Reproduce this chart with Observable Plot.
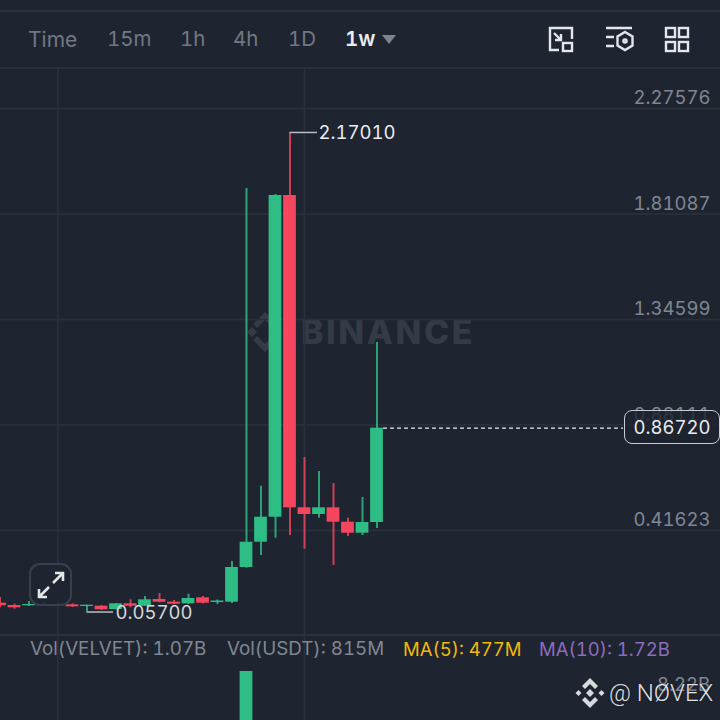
<!DOCTYPE html>
<html><head><meta charset="utf-8">
<script src="https://cdn.jsdelivr.net/npm/d3@7"></script>
<script src="https://cdn.jsdelivr.net/npm/@observablehq/plot@0.6"></script>
<style>
html,body{margin:0;padding:0;background:#1f2530;width:720px;height:720px;overflow:hidden}
#wrap{position:relative;width:720px;height:720px;font-family:Inter,sans-serif;font-variant-numeric:tabular-nums;font-feature-settings:"tnum"}
#wrap>svg{position:absolute;left:0;top:0}
.t{position:absolute;white-space:nowrap;line-height:1}
</style></head><body><div id="wrap"></div>
<script>
const slots = d3.range(27);
const opens  = [0.0959,0.0857,0.0844,0.0857,0.0901,0.0888,0.0813,0.0826,0.0681,0.0932,0.0826,0.1122,0.1003,0.0932,0.1196,0.0989,0.1003,0.2532,0.3647,0.4748,1.8924,0.5162,0.4867,0.5162,0.4528,0.4043,0.4515];
const closes = [0.0844,0.0756,0.0901,0.0901,0.0857,0.0800,0.0870,0.0668,0.0932,0.0826,0.1108,0.1003,0.0914,0.1166,0.0959,0.1055,0.2532,0.3647,0.4748,1.8924,0.5162,0.4867,0.5162,0.4528,0.4043,0.4515,0.8672];
const highs  = [0.1210,0.0914,0.1033,0.0989,0.0945,0.0932,0.0870,0.0857,0.0945,0.1108,0.1254,0.1386,0.1077,0.1355,0.1254,0.1100,0.2796,1.9232,0.6114,1.8968,2.1701,0.7379,0.6762,0.6233,0.4704,0.5616,1.2446];
const lows   = [0.0756,0.0694,0.0813,0.0835,0.0813,0.0769,0.0570,0.0637,0.0659,0.0756,0.0813,0.0976,0.0888,0.0901,0.0923,0.0901,0.0945,0.2500,0.3061,0.3823,0.3942,0.3338,0.4704,0.2620,0.3898,0.3942,0.4250];
const volX = [17];
const volValues = [9.63e9];
const yTicks = [2.27576,1.81087,1.34599,0.88111,0.41623];
const xGrid = [4,21];
const lastPrice = 0.86720, highPrice = 2.17010, lowPrice = 0.05700;
const highIdx = 20, lowIdx = 6;
const frames = ["Time","15m","1h","4h","1D","1w"];
const volLabels = [["Vol(VELVET): 1.07B","#7f8793"],["Vol(USDT): 815M","#7f8793"],["MA(5): 477M","#f0b90b"],["MA(10): 1.72B","#8e6bbf"]];

const candles = slots.map(i=>({i,o:opens[i],c:closes[i],h:highs[i],l:lows[i]}));
const UP="#2ebd85", DOWN="#f6465d", GRID="#2b313c";
const col = d=>d.c>=d.o?UP:DOWN;
const x = {type:"linear",domain:[0,26],range:[-0.5,376.5]};
const y = {type:"linear",domain:[2.27576,0.41623],range:[108,530]};
const wrap=document.getElementById("wrap");
function add(html,css){const e=document.createElement("div");e.className="t";e.innerHTML=html;e.style.cssText=css;wrap.appendChild(e);return e;}
function line(l,t,w,h,c){add("",`left:${l}px;top:${t}px;width:${w}px;height:${h}px;background:${c}`)}

add("BINANCE","left:301px;top:315px;font-size:34px;font-weight:800;color:#343a46;letter-spacing:2.5px");
add('<svg width="36" height="40" style="position:static;display:block"><g fill="#343a46"><path d="M18 0l8 8-4 4-4-4-8 8-4-4z"/><path d="M18 40l8-8-4-4-4 4-8-8-4 4z" /><path d="M5 15l5 5-5 5-5-5z"/><path d="M30 15l5 5-5 5-5-5z"/></g></svg>',"left:247px;top:312px");

const plot = Plot.plot({
  width:720,height:720,marginTop:0,marginBottom:0,marginLeft:0,marginRight:0,
  style:{background:"transparent",fontFamily:"Inter,sans-serif",fontVariantNumeric:"tabular-nums",overflow:"hidden"},
  x:{...x,axis:null},y:{...y,axis:null,clamp:false},
  marks:[
    Plot.ruleY(yTicks,{stroke:GRID,strokeWidth:1.5}),
    Plot.ruleX(xGrid,{stroke:GRID,strokeWidth:1.5,y1:2.452,y2:-0.5}),
    Plot.text(yTicks,{x:()=>49,y:d=>d,dy:-10,text:d=>d.toFixed(5),textAnchor:"end",fill:"#7f8793",fontSize:18.5}),
    Plot.ruleX(candles,{x:"i",y1:"l",y2:"h",stroke:col,strokeWidth:2,strokeOpacity:0.82}),
    Plot.rect(candles,{x1:d=>d.i-0.44,x2:d=>d.i+0.44,y1:"o",y2:"c",fill:col}),
    Plot.ruleY([lastPrice],{x1:26.45,x2:43,stroke:"#eaecef",strokeWidth:1.2,strokeDasharray:"4 3"}),
    Plot.ruleY([highPrice],{x1:highIdx,x2:21.9,stroke:"#b7bdc6",strokeWidth:1.5}),
    Plot.ruleY([lowPrice],{x1:lowIdx,x2:7.83,stroke:"#b7bdc6",strokeWidth:1.5}),
    Plot.text([highPrice],{x:()=>21.97,y:d=>d,dy:1,text:d=>d.toFixed(5),textAnchor:"start",fill:"#eaecef",fontSize:18.5}),
    Plot.text([lowPrice],{x:()=>7.97,y:d=>d,dy:1.5,text:d=>d.toFixed(5),textAnchor:"start",fill:"#d5d8dd",fontSize:18.5})
  ]
});
wrap.appendChild(plot);

const vol = Plot.plot({
  width:720,height:720,marginTop:0,marginBottom:0,marginLeft:0,marginRight:0,
  style:{background:"transparent",overflow:"hidden"},
  x:{...x,axis:null},y:{type:"linear",domain:[0,8.22e9],range:[760,684],axis:null},
  marks:[Plot.rect(volX.map((v,k)=>({v,q:volValues[k]})),{x1:d=>d.v-0.44,x2:d=>d.v+0.44,y1:0,y2:"q",fill:UP})]
});
wrap.appendChild(vol);

line(0,10,720,1.5,GRID);line(0,67,720,1.5,GRID);line(0,634,720,1.5,GRID);
const fx=[28,107,180,233,288,345];
frames.forEach((f,i)=>add(f,`left:${fx[i]}px;top:29px;font-size:${i?20.5:21}px;color:${f==="1w"?"#eaecef":"#717885"};font-weight:${f==="1w"?600:400}`));
add('<svg width="14" height="9" style="position:static;display:block"><path d="M0 0H14L7 9Z" fill="#7d8490"/></svg>',"left:382px;top:35px");
const icons=`<svg width="720" height="70" fill="none" stroke="#e4e6ea" stroke-width="2.4" style="position:static;display:block">
<path d="M559 50H550V28H572V39M554 33l7 7M561 34v6h-6"/><rect x="563" y="43" width="9" height="8"/>
<path d="M606 28H632M606 37H614M606 46H614"/><path d="M625 32l7.5 4.5v9L625 50l-7.5-4.5v-9z"/><circle cx="625" cy="41" r="1.6"/>
<rect x="666" y="28" width="9" height="9"/><rect x="679" y="28" width="9" height="9"/><rect x="666" y="42" width="9" height="9"/><rect x="679" y="42" width="9" height="9"/></svg>`;
add(icons,"left:0;top:0");
const vx=[30,227,403,539];
volLabels.forEach((a,i)=>add(a[0],`left:${vx[i]}px;top:640px;font-size:${i<2?18.8:18.5}px;color:${a[1]}`));
add("8.22B","right:10px;top:675px;font-size:18.5px;color:#7f8793");
add("0.86720",`left:624px;top:410px;width:96px;height:34px;box-sizing:border-box;border:1.5px solid #c8ccd2;border-radius:8px;background:rgba(31,37,48,.82);color:#eaecef;font-size:18.5px;text-align:center;line-height:32px`);
add('<svg width="40" height="40" fill="none" stroke="#e4e6ea" stroke-width="2.6" style="position:static;display:block"><path d="M8 32L18 22M8 24v8h8M32 8L22 18M24 8h8v8"/></svg>',"left:29px;top:563px;width:43px;height:43px;border:2px solid #3a404b;border-radius:11px;box-sizing:border-box;background:rgba(31,37,48,.88)");
add('<svg width="30" height="30" fill="#d7d9dd" style="position:static;display:block"><path d="M15 0l8 8-3 3-5-5-5 5-3-3z"/><path d="M15 30l8-8-3-3-5 5-5-5-3 3z"/><path d="M15 11l4 4-4 4-4-4z"/><path d="M3.500 12l3 3-3 3-3-3zM26.500 12l3 3-3 3-3-3z"/></svg>',"left:575px;top:678px");
add("@ NØVEX","left:609px;top:681px;font-family:Roboto,sans-serif;font-size:24px;color:#e0e2e6;font-weight:300;text-shadow:0 0 2px #0008");
</script></body></html>
